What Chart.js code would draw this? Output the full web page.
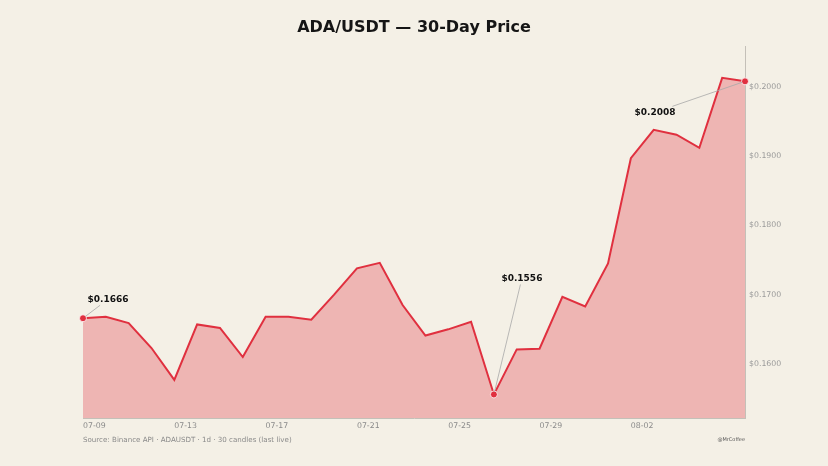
<!DOCTYPE html>
<html lang="en">
<head>
  <meta charset="UTF-8" />
  <title>ADA/USDT — 30-Day Price</title>
  <style>
    html,body{margin:0;padding:0;background:#f4f0e6}
    #wrap{width:828px;height:466px;position:relative}
    canvas{display:block}
  </style>
</head>
<body>
  <div id="wrap"><canvas id="chart" width="828" height="466"></canvas></div>

  <script src="https://cdn.jsdelivr.net/npm/chart.js"></script>
  <script>
  /* ---------- data ---------- */
  const days = ['07-09','07-10','07-11','07-12','07-13','07-14','07-15','07-16','07-17','07-18',
                '07-19','07-20','07-21','07-22','07-23','07-24','07-25','07-26','07-27','07-28',
                '07-29','07-30','07-31','08-01','08-02','08-03','08-04','08-05','08-06','08-07'];
  const closes = [0.1666,0.1668,0.1659,0.1623,0.1577,0.1657,0.1652,0.1610,0.1668,0.1668,
                  0.1664,0.1700,0.1738,0.1746,0.1685,0.1641,0.1650,0.1661,0.1556,0.1621,
                  0.1622,0.1697,0.1683,0.1745,0.1897,0.1938,0.1931,0.1912,0.2013,0.2008];
  const shownDays = ['07-09','07-13','07-17','07-21','07-25','07-29','08-02'];
  const yTicks = [0.16,0.17,0.18,0.19,0.20];
  const yMin = 0.1522, yMax = 0.2059;
  // annotated points: index + text offset (px) from the point
  const marks = [
    {i:0,  dx:25,  dy:-19},
    {i:18, dx:28,  dy:-116},
    {i:29, dx:-90, dy:31}
  ];
  const markIdx = marks.map(m=>m.i);

  const RED = '#e0303f', BG = '#f4f0e6', GREY = '#8a8a8a';

  /* ---------- extras: title, footer, annotations ---------- */
  const extras = {
    id:'extras',
    beforeDraw(c){
      const g=c.ctx; g.save(); g.fillStyle=BG; g.fillRect(0,0,c.width,c.height); g.restore();
    },
    afterDraw(c){
      const g=c.ctx, a=c.chartArea, x=c.scales.x, y=c.scales.y;
      g.save();
      // title
      g.fillStyle='#151515'; g.font='bold 16px "DejaVu Sans"';
      g.textAlign='center'; g.textBaseline='middle';
      g.fillText('ADA/USDT — 30-Day Price',(a.left+a.right)/2,28);
      // footer
      g.fillStyle=GREY; g.font='7.1px "DejaVu Sans"';
      g.textAlign='left';
      g.fillText('Source: Binance API · ADAUSDT · 1d · 30 candles (last live)',a.left,440);
      g.fillStyle='#555'; g.font='5px "DejaVu Sans"'; g.textAlign='right';
      g.fillText('@MrCoffee',a.right,440);
      // annotations
      g.font='bold 9px "DejaVu Sans"';
      marks.forEach(m=>{
        const px=x.getPixelForValue(m.i), py=y.getPixelForValue(closes[m.i]);
        const tx=px+m.dx, ty=py+m.dy;
        const txt='$'+closes[m.i].toFixed(4);
        const w=g.measureText(txt).width/2+2, h=6;
        // clip the leader at the text box
        const vx=px-tx, vy=py-ty;
        const s=Math.min(Math.abs(w/vx)||1e9, Math.abs(h/vy)||1e9);
        const ex=tx+vx*s, ey=ty+vy*s;
        const len=Math.hypot(px-ex,py-ey);
        const sx=px+(ex-px)*(3/len), sy=py+(ey-py)*(3/len);
        g.strokeStyle='#a8a8a8'; g.lineWidth=0.8;
        g.beginPath(); g.moveTo(sx,sy); g.lineTo(ex,ey); g.stroke();
        g.fillStyle='#111'; g.textAlign='center'; g.textBaseline='middle';
        g.fillText(txt,tx,ty);
      });
      g.restore();
    }
  };

  /* ---------- chart ---------- */
  const ctx=document.getElementById('chart').getContext('2d');
  new Chart(ctx,{
    type:'line',
    data:{
      labels:days,
      datasets:[{
        data:closes,
        borderColor:RED, borderWidth:2,
        backgroundColor:'rgba(224,48,63,0.30)',
        fill:'start', tension:0,
        pointRadius:ctx=>markIdx.includes(ctx.dataIndex)?3.5:0,
        pointBackgroundColor:RED, pointBorderColor:'#ffffff', pointBorderWidth:0.8,
        clip:false
      }]
    },
    options:{
      responsive:false, animation:false,
      layout:{padding:{left:83,right:0,top:46,bottom:27}},
      plugins:{legend:{display:false},tooltip:{enabled:false},title:{display:false}},
      scales:{
        x:{
          type:'category', offset:false,
          grid:{display:false,drawTicks:false},
          border:{display:true,color:'#c4c0b8',width:1},
          ticks:{
            autoSkip:false, maxRotation:0, align:'start', padding:3,
            color:GREY, font:{family:'DejaVu Sans',size:7.8},
            callback(v){ const l=this.getLabelForValue(v); return shownDays.includes(l)?l:''; }
          },
          afterFit(s){ s.height=21; }
        },
        y:{
          position:'right', min:yMin, max:yMax,
          grid:{display:false,drawTicks:false},
          border:{display:true,color:'#c4c0b8',width:1},
          afterBuildTicks(s){ s.ticks=yTicks.map(v=>({value:v})); },
          ticks:{
            padding:4, color:'#9a9a9a', font:{family:'DejaVu Sans',size:7.8},
            callback:v=>'$'+v.toFixed(4)
          },
          afterFit(s){ s.width=83; }
        }
      }
    },
    plugins:[extras]
  });
  </script>
</body>
</html>
